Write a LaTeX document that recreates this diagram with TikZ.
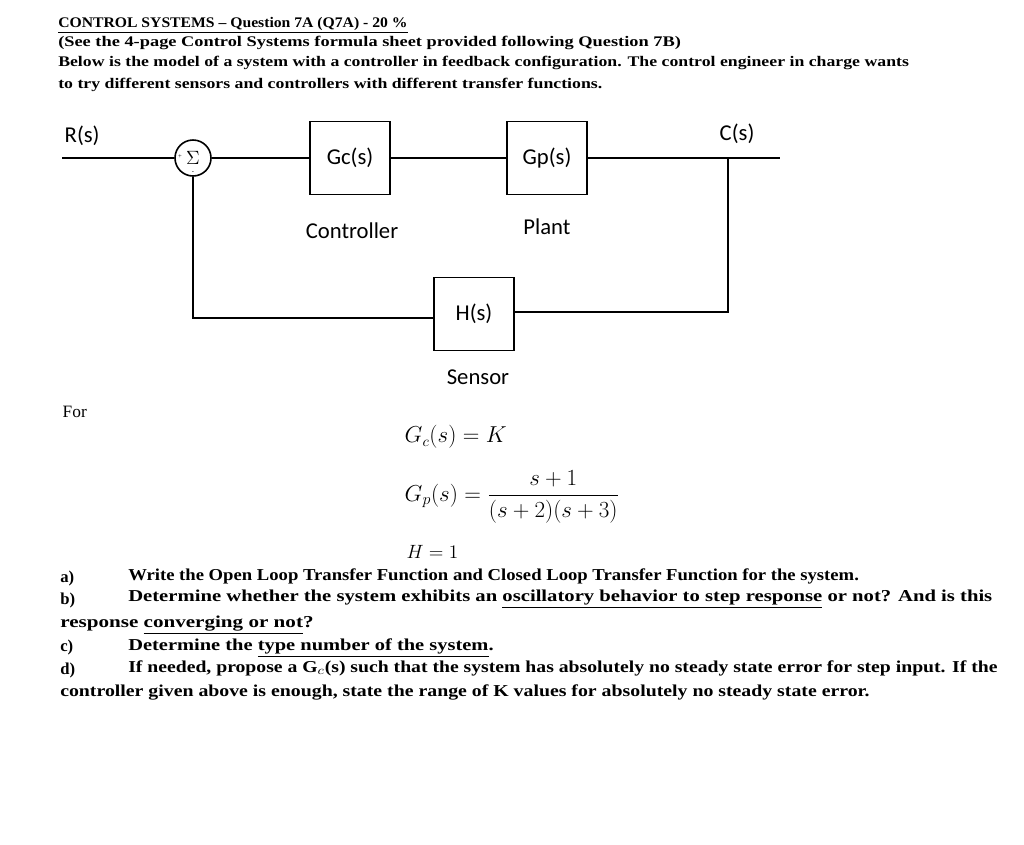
\documentclass[tikz,border=0pt]{standalone}
\usepackage{amsmath}
\usepackage{graphicx}
\usepackage{fontspec}
\setmainfont{Liberation Serif}
\newfontfamily\sans{Carlito}
\newcommand{\fitw}[2]{\resizebox{#1}{\height}{#2}}
\begin{document}
\begin{tikzpicture}[x=0.75pt,y=-0.75pt,
  blk/.style={draw,line width=1.2pt,minimum width=60pt,minimum height=55pt,inner sep=0pt,font=\sans\fontsize{17}{17}\selectfont},
  lab/.style={font=\sans\fontsize{17}{17}\selectfont},
  ln/.style={line width=1.2pt},
  tx/.style={anchor=base west,inner sep=0pt,font=\bfseries\fontsize{11}{11}\selectfont},
  qx/.style={anchor=base west,inner sep=0pt,font=\bfseries\fontsize{12.5}{12.5}\selectfont}]
\useasboundingbox[fill=white] (0,0) rectangle (1024,844);
% header
\node[tx] (t1) at (58,27) {\fitw{262pt}{\underline{CONTROL SYSTEMS -- Question 7A (Q7A) - 20 \%}}};
\node[tx] (t2) at (58,46) {\fitw{467pt}{(See the 4-page Control Systems formula sheet provided following Question 7B)}};
\node[tx] (t3) at (58,66) {\fitw{638pt}{Below is the model of a system with a controller in feedback configuration. The control engineer in charge wants}};
\node[tx] (t4) at (58,88) {\fitw{408pt}{to try different sensors and controllers with different transfer functions.}};
% diagram
\coordinate (rin) at (62,158);
\node[draw,circle,line width=1.2pt,minimum size=27pt,inner sep=0pt] (sum) at (193,158) {\Large$\Sigma$};
\node[font=\tiny] (plus) at (180,157) {+};
\node[font=\tiny] (minus) at (193,173) {-};
\node[blk] (gc) at (350,158) {Gc(s)};
\node[blk] (gp) at (547,158) {Gp(s)};
\node[blk] (h) at (474,314) {H(s)};
\coordinate (cout) at (780,158);
\coordinate (br) at (715,158);
\coordinate (br2) at (728,312);
\coordinate (fl) at (193,318);
\node[lab,anchor=west] (rs) at (60,136) {R(s)};
\node[lab,anchor=west] (cs) at (715,134) {C(s)};
\node[lab] (ctl) at (352,231) {Controller};
\node[lab] (pl) at (547,227) {Plant};
\node[lab] (sn) at (478,377) {Sensor};
\draw[ln] (rin) -- (sum.west);
\draw[ln] (sum.east) -- (gc.west);
\draw[ln] (gc.east) -- (gp.west);
\draw[ln] (gp.east) -- (cout);
\draw[ln] (br) -- (br -| br2) -- (br2) -- (h.east |- br2) ;
\draw[ln] (h.west |- fl) -- (fl) -- (sum.south);
% equations
\node[anchor=west,font=\fontsize{13}{13}\selectfont] (for) at (58,412) {For};
\node[anchor=west,font=\fontsize{16}{16}\selectfont] (e1) at (400,437) {$G_c(s)=K$};
\node[anchor=west,font=\fontsize{17}{17}\selectfont] (e2) at (400,497) {$G_p(s)=\dfrac{s+1}{(s+2)(s+3)}$};
\node[anchor=west,inner sep=1pt,font=\fontsize{15}{15}\selectfont] (e3) at (405,552) {$H=1$};
% questions
\node[qx] (qa) at (60,582) {a)};
\node[qx] (qat) at (128,580) {\fitw{548pt}{Write the Open Loop Transfer Function and Closed Loop Transfer Function for the system.}};
\node[qx] (qb) at (60,604) {b)};
\node[qx] (qbt) at (128,601) {\fitw{648pt}{Determine whether the system exhibits an \underline{oscillatory behavior to step response} or not? And is this}};
\node[qx] (qb2) at (60,627) {\fitw{190pt}{response \underline{converging or not}?}};
\node[qx] (qc) at (60,651) {c)};
\node[qx] (qct) at (128,650) {\fitw{274pt}{Determine the \underline{type number of the system}.}};
\node[qx] (qd) at (60,674) {d)};
\node[qx] (qdt) at (128,672) {\fitw{652pt}{If needed, propose a G$_c$(s) such that the system has absolutely no steady state error for step input. If the}};
\node[qx] (qd2) at (60,696) {\fitw{607pt}{controller given above is enough, state the range of K values for absolutely no steady state error.}};
\end{tikzpicture}
\end{document}
